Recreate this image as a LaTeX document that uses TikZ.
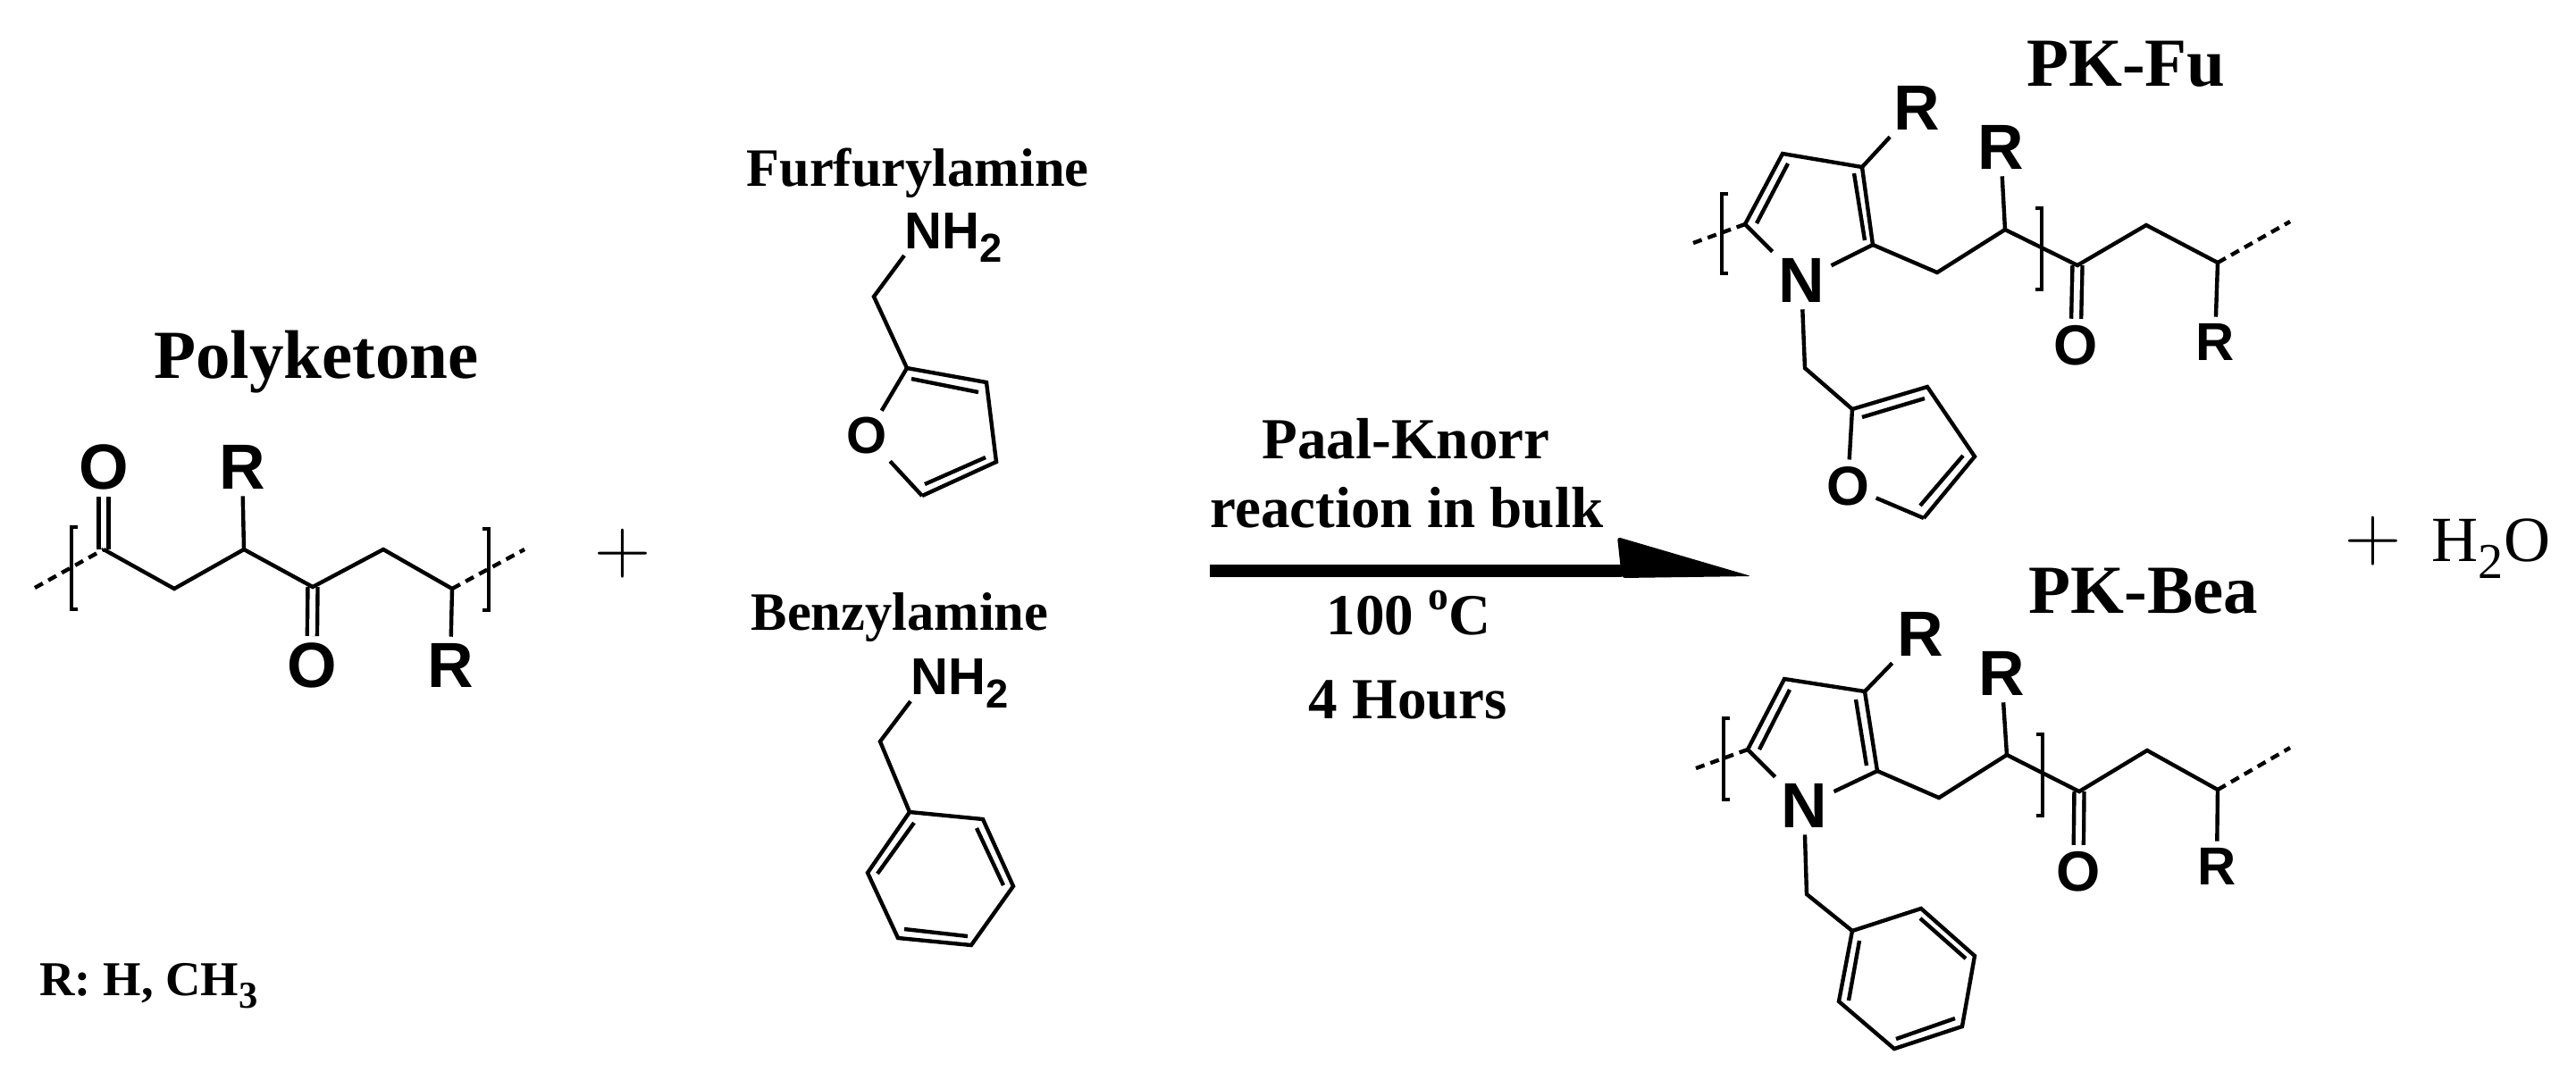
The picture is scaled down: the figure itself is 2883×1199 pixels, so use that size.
\documentclass[tikz,border=0pt]{standalone}
\usepackage{fontspec}
\setmainfont{Liberation Serif}
\newfontfamily\atomfont{Liberation Sans}
\usetikzlibrary{calc}
\newcommand{\lowered}[1]{\raisebox{-.27em}{\scalebox{.78}{#1}}}

\begin{document}
\begin{tikzpicture}[x=0.01cm,y=-0.01cm,
    bond/.style={line width=1.25pt,line join=miter,black},
    carbonyl/.style={line width=1.25pt,double,double distance=1.9pt},
    chainend/.style={line width=1.25pt,dash pattern=on 2.9pt off 2pt},
    atom/.style={font=\atomfont\bfseries\fontsize{20.3}{20}\selectfont,inner sep=2pt},
    smallatom/.style={font=\atomfont\bfseries\fontsize{16.5}{16}\selectfont,inner sep=2pt},
    aminegroup/.style={font=\atomfont\bfseries\fontsize{16.5}{16}\selectfont,inner sep=0,anchor=base west},
    title/.style={font=\bfseries\fontsize{21.9}{22}\selectfont,inner sep=0,anchor=base},
    caption/.style={font=\bfseries\fontsize{17.2}{18}\selectfont,inner sep=0,anchor=base},
    condition/.style={font=\bfseries\fontsize{18.5}{19}\selectfont,inner sep=0,anchor=base},
    plussign/.style={font=\fontsize{30}{30}\selectfont,inner sep=0}]
    \useasboundingbox (0,0) rectangle (2883,1199);

    % Polyketone
    \node[title] (polyketone) at (354,423) {Polyketone};
    \coordinate (K1) at (116,615);
    \coordinate (K2) at (195,659);
    \coordinate (K3) at (273,615);
    \coordinate (K4) at (350,657);
    \coordinate (K5) at (429,615);
    \coordinate (K6) at (506,659);
    \coordinate (Kl) at (39,658);
    \coordinate (Kr) at (587,615);
    \node[atom] (KO1) at (116,523) {O};
    \node[atom] (KR1) at (271,523) {R};
    \node[atom] (KO2) at (349,745) {O};
    \node[atom] (KR2) at (504,745) {R};
    \draw[carbonyl] (K1) -- (KO1);
    \draw[carbonyl] (K4) -- (KO2);
    \draw[bond] (K1) -- (K2) -- (K3) -- (K4) -- (K5) -- (K6);
    \draw[bond] (K3) -- (KR1);
    \draw[bond] (K6) -- (KR2);
    \draw[chainend] (Kl) -- (K1);
    \draw[chainend] (K6) -- (Kr);
    \draw[bond] (87,590) -- (80,590) -- (80,682) -- (87,682);
    \draw[bond] (540,592) -- (547,592) -- (547,683) -- (540,683);
    \node[plussign] (plusa) at (697,620) {$+$};
    \node[caption,font=\bfseries\fontsize{15.5}{16}\selectfont] (rlegend) at (166.5,1114) {R: H, CH\lowered{3}};

    % Furfurylamine
    \node[caption] (furfurylamine) at (1027,208) {Furfurylamine};
    \node[aminegroup] (FN) at (1012,278) {NH\lowered{2}};
    \coordinate (F1) at (978,332);
    \coordinate (F2) at (1015,412);
    \coordinate (F3) at (1104,428);
    \coordinate (F4) at (1115,517);
    \coordinate (F5) at (1032,555);
    \node[smallatom] (FO) at (970,488) {O};
    \draw[bond] ($(FN.base west)+(0,8)$) -- (F1) -- (F2) -- (F3) -- (F4) -- (F5);
    \draw[bond] (F2) -- (FO);
    \draw[bond] (F5) -- (FO);
    \draw[bond] (1020,424) -- (1095,439);
    \draw[bond] (1035,542) -- (1103,512);

    % Benzylamine
    \node[caption] (benzylamine) at (1007,705) {Benzylamine};
    \node[aminegroup] (BN) at (1019,777) {NH\lowered{2}};
    \coordinate (B0) at (985,830);
    \coordinate (B1) at (1018,909);
    \coordinate (B2) at (1100,917);
    \coordinate (B3) at (1134,992);
    \coordinate (B4) at (1087,1058);
    \coordinate (B5) at (1005,1050);
    \coordinate (B6) at (971,977);
    \draw[bond] ($(BN.base west)+(0,8)$) -- (B0) -- (B1);
    \draw[bond] (B1) -- (B2) -- (B3) -- (B4) -- (B5) -- (B6) -- cycle;
    \draw[bond] (1023,921) -- (982,978);
    \draw[bond] (1093,927) -- (1123,991);
    \draw[bond] (1083,1048) -- (1012,1040);

    % Reaction arrow
    \node[condition] (paal) at (1573.5,513) {Paal-Knorr};
    \node[condition] (bulk) at (1574.5,590) {reaction in bulk};
    \node[condition] (temp) at (1576.5,710) {100 \raisebox{.42em}{\scalebox{.7}{o}}C};
    \node[condition] (hours) at (1576,804) {4 Hours};
    \coordinate (arrowtail) at (1354,639);
    \coordinate (arrowneck) at (1815,639);
    \coordinate (arrowtop) at (1810,601);
    \coordinate (arrowtip) at (1960,645);
    \coordinate (arrowfoot) at (1815,647);
    \draw[line width=14*0.01cm] (arrowtail) -- (arrowneck);
    \fill[rounded corners=1pt] (arrowtop) -- (arrowtip) -- (arrowfoot) -- cycle;

    % PK-Fu
    \node[title] (pkfu) at (2379.5,96) {PK-Fu};
    \coordinate (Ua) at (1953,251);
    \coordinate (Ub) at (1995,172);
    \coordinate (Uc) at (2084,187);
    \coordinate (Ud) at (2096,274);
    \coordinate (Ue) at (2168,305);
    \coordinate (Uf) at (2244,257);
    \coordinate (Ug) at (2325,297);
    \coordinate (Uh) at (2402,252);
    \coordinate (Ui) at (2482,294);
    \coordinate (Ul) at (1895,272);
    \coordinate (Ur) at (2563,248);
    \node[atom] (UN) at (2016,314) {N};
    \node[atom] (UR1) at (2145,121) {R};
    \node[atom] (UR2) at (2239,165) {R};
    \node[atom,font=\atomfont\bfseries\fontsize{18}{18}\selectfont] (UO) at (2323,387) {O};
    \node[atom,font=\atomfont\bfseries\fontsize{17}{17}\selectfont] (UR3) at (2479,383) {R};
    \draw[carbonyl] (Ug) -- (UO);
    \draw[bond] (UN) -- (Ua) -- (Ub) -- (Uc) -- (Ud) -- (UN);
    \draw[bond] (Uc) -- (UR1);
    \draw[bond] (Ud) -- (Ue) -- (Uf) -- (Ug) -- (Uh) -- (Ui);
    \draw[bond] (Uf) -- (UR2);
    \draw[bond] (Ui) -- (UR3);
    \draw[chainend] (Ul) -- (Ua);
    \draw[chainend] (Ui) -- (Ur);
    \draw[bond] (1966,250) -- (2001,183);
    \draw[bond] (2075,194) -- (2087,269);
    \draw[bond] (1934,217) -- (1927,217) -- (1927,306) -- (1934,306);
    \draw[bond] (2278,233) -- (2285,233) -- (2285,324) -- (2278,324);
    \coordinate (Uj) at (2020,412);
    \coordinate (U1) at (2073,458);
    \coordinate (U2) at (2157,433);
    \coordinate (U3) at (2210,511);
    \coordinate (U4) at (2153,580);
    \node[atom,font=\atomfont\bfseries\fontsize{17.5}{17}\selectfont] (UO2) at (2068,544) {O};
    \draw[bond] (UN) -- (Uj) -- (U1) -- (U2) -- (U3) -- (U4);
    \draw[bond] (U1) -- (UO2);
    \draw[bond] (U4) -- (UO2);
    \draw[bond] (2084,467) -- (2154,446);
    \draw[bond] (2197,510) -- (2149,566);

    % PK-Bea
    \node[title] (pkbea) at (2399,686) {PK-Bea};
    \coordinate (Ea) at (1956,839);
    \coordinate (Eb) at (1997,760);
    \coordinate (Ec) at (2087,774);
    \coordinate (Ed) at (2101,863);
    \coordinate (Ee) at (2170,893);
    \coordinate (Ef) at (2246,845);
    \coordinate (Eg) at (2327,886);
    \coordinate (Eh) at (2403,840);
    \coordinate (Ei) at (2482,884);
    \coordinate (El) at (1898,860);
    \coordinate (Er) at (2563,837);
    \node[atom] (EN) at (2019,902) {N};
    \node[atom] (ER1) at (2149,710) {R};
    \node[atom] (ER2) at (2240,754) {R};
    \node[atom,font=\atomfont\bfseries\fontsize{18}{18}\selectfont] (EO) at (2326,976) {O};
    \node[atom,font=\atomfont\bfseries\fontsize{17}{17}\selectfont] (ER3) at (2481,970) {R};
    \draw[carbonyl] (Eg) -- (EO);
    \draw[bond] (EN) -- (Ea) -- (Eb) -- (Ec) -- (Ed) -- (EN);
    \draw[bond] (Ec) -- (ER1);
    \draw[bond] (Ed) -- (Ee) -- (Ef) -- (Eg) -- (Eh) -- (Ei);
    \draw[bond] (Ef) -- (ER2);
    \draw[bond] (Ei) -- (ER3);
    \draw[chainend] (El) -- (Ea);
    \draw[chainend] (Ei) -- (Er);
    \draw[bond] (1969,839) -- (2003,772);
    \draw[bond] (2077,783) -- (2089,857);
    \draw[bond] (1936,804) -- (1929,804) -- (1929,895) -- (1936,895);
    \draw[bond] (2279,822) -- (2286,822) -- (2286,913) -- (2279,913);
    \coordinate (Ej) at (2022,1001);
    \coordinate (E1) at (2073,1042);
    \coordinate (E2) at (2150,1017);
    \coordinate (E3) at (2210,1070);
    \coordinate (E4) at (2196,1149);
    \coordinate (E5) at (2120,1174);
    \coordinate (E6) at (2058,1121);
    \draw[bond] (EN) -- (Ej) -- (E1);
    \draw[bond] (E1) -- (E2) -- (E3) -- (E4) -- (E5) -- (E6) -- cycle;
    \draw[bond] (2149,1028) -- (2200,1073);
    \draw[bond] (2081,1053) -- (2069,1120);
    \draw[bond] (2188,1140) -- (2122,1163);

    % Water
    \node[plussign] (plusb) at (2656,606) {$+$};
    \node[font=\fontsize{20.5}{21}\selectfont,inner sep=0,anchor=base] (water) at (2788,628) {H\lowered{2}O};
\end{tikzpicture}
\end{document}
